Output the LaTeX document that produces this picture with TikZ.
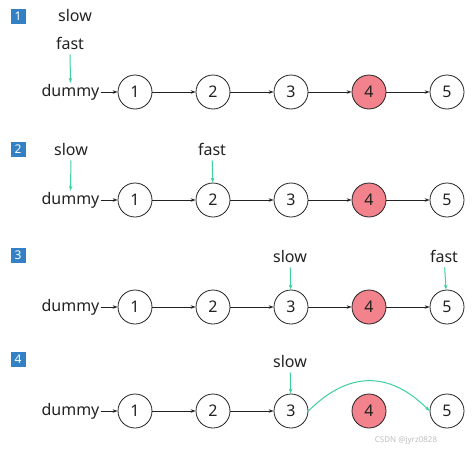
\documentclass[tikz,border=0pt]{standalone}
\usepackage{fontspec}
\setmainfont{Noto Sans}
\usetikzlibrary{arrows.meta,positioning}

\definecolor{ptrgreen}{RGB}{60,208,160}
\definecolor{hitpink}{RGB}{242,130,140}
\definecolor{badgeblue}{RGB}{52,128,196}
\definecolor{inkgray}{RGB}{34,34,34}

\begin{document}
\begin{tikzpicture}[
    x=1pt, y=-1pt,
    node distance=43.2pt,
    item/.style={circle, draw=inkgray, line width=0.8pt, minimum size=34pt, inner sep=0pt, font=\fontsize{16}{18}\selectfont, text=inkgray},
    word/.style={inner sep=1pt, font=\fontsize{16}{18}\selectfont, text=inkgray},
    tag/.style={inner sep=2pt, font=\fontsize{16}{18}\selectfont, text=inkgray},
    badge/.style={rectangle, fill=badgeblue, minimum size=15pt, inner sep=0pt, text=white, font=\fontsize{12}{12}\selectfont\bfseries},
    link/.style={-{Stealth[length=5pt,width=3.5pt]}, line width=0.7pt, draw=inkgray},
    ptr/.style={-{Stealth[length=5pt,width=3.5pt]}, line width=1pt, draw=ptrgreen, shorten <=3pt}
]
    \useasboundingbox (0,0) rectangle (474,450);

    % Step 1
    \node[badge] (n1) at (18,16) {1};
    \node[item] (a1) at (135,92) {1};
    \node[item, right=of a1] (a2) {2};
    \node[item, right=of a2] (a3) {3};
    \node[item, right=of a3, fill=hitpink] (a4) {4};
    \node[item, right=of a4] (a5) {5};
    \node[word, left=17pt of a1] (d1) {dummy};
    \node[tag] (s1) at (75,15) {slow};
    \node[tag] (f1) at (70,43) {fast};

    % Step 2
    \node[badge] (n2) at (18,149) {2};
    \node[item] (b1) at (135,200) {1};
    \node[item, right=of b1] (b2) {2};
    \node[item, right=of b2] (b3) {3};
    \node[item, right=of b3, fill=hitpink] (b4) {4};
    \node[item, right=of b4] (b5) {5};
    \node[word, left=17pt of b1] (d2) {dummy};
    \node[tag] (s2) at (71,149) {slow};
    \node[tag] (f2) at (212,149) {fast};

    % Step 3
    \node[badge] (n3) at (18,255) {3};
    \node[item] (c1) at (135,307) {1};
    \node[item, right=of c1] (c2) {2};
    \node[item, right=of c2] (c3) {3};
    \node[item, right=of c3, fill=hitpink] (c4) {4};
    \node[item, right=of c4] (c5) {5};
    \node[word, left=17pt of c1] (d3) {dummy};
    \node[tag] (s3) at (290,256) {slow};
    \node[tag] (f3) at (444,256) {fast};

    % Step 4
    \node[badge] (n4) at (18,359) {4};
    \node[item] (e1) at (135,411) {1};
    \node[item, right=of e1] (e2) {2};
    \node[item, right=of e2] (e3) {3};
    \node[item, right=of e3, fill=hitpink] (e4) {4};
    \node[item, right=of e4] (e5) {5};
    \node[word, left=17pt of e1] (d4) {dummy};
    \node[tag] (s4) at (290,361) {slow};

    % Links
    \draw[link] (d1) -- (a1);
    \draw[link] (a1) -- (a2);
    \draw[link] (a2) -- (a3);
    \draw[link] (a3) -- (a4);
    \draw[link] (a4) -- (a5);
    \draw[link] (d2) -- (b1);
    \draw[link] (b1) -- (b2);
    \draw[link] (b2) -- (b3);
    \draw[link] (b3) -- (b4);
    \draw[link] (b4) -- (b5);
    \draw[link] (d3) -- (c1);
    \draw[link] (c1) -- (c2);
    \draw[link] (c2) -- (c3);
    \draw[link] (c3) -- (c4);
    \draw[link] (c4) -- (c5);
    \draw[link] (d4) -- (e1);
    \draw[link] (e1) -- (e2);
    \draw[link] (e2) -- (e3);

    % Pointers
    \draw[ptr] (f1) -- (d1);
    \draw[ptr] (s2) -- (d2);
    \draw[ptr] (f2) -- (b2);
    \draw[ptr] (s3) -- (c3);
    \draw[ptr] (f3) -- (c5);
    \draw[ptr] (s4) -- (e3);
    \draw[ptr, shorten <=0pt] (e3.east) to[out=45, in=135, looseness=1.2] (e5.west);

    % watermark
    \node[text=black!25, font=\fontsize{8}{8}\selectfont] (mark) at (406,441) {CSDN @jyrz0828};
\end{tikzpicture}
\end{document}
